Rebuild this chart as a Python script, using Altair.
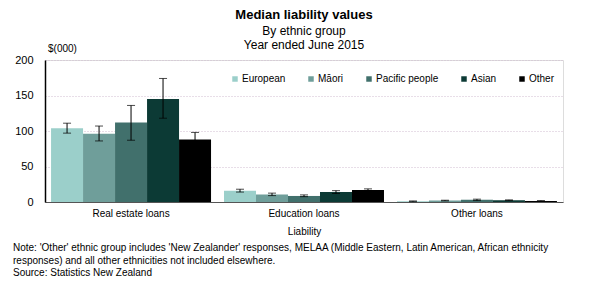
import altair as alt
import pandas as pd

liabilities = ["Real estate loans", "Education loans", "Other loans"]
groups = ["European", "Māori", "Pacific people", "Asian", "Other"]
colors = ["#9bcfca", "#6f9e9a", "#41706c", "#0c3a35", "#000000"]

real_estate = [104, 96, 112, 145, 88]
real_estate_lo = [97, 86, 87, 118, 79]
real_estate_hi = [111, 107, 136, 174, 98]
education = [16, 10.5, 8.5, 14, 17]
education_lo = [14, 9, 7.5, 12, 15.5]
education_hi = [18, 12.5, 10, 16, 18.5]
other = [1, 2, 3, 2.5, 1.5]
other_lo = [0.5, 1.5, 2, 2, 1]
other_hi = [1.5, 2.5, 4, 3, 2]

y_ticks = [0, 50, 100, 150, 200]
unit_label = "$(000)"
note_lines = [
    "Note: 'Other' ethnic group includes 'New Zealander' responses, MELAA (Middle Eastern, Latin American, African ethnicity",
    "responses) and all other ethnicities not included  elsewhere.",
    "Source: Statistics New Zealand",
]

rows = []
for liab, vals, los, his in [
    (liabilities[0], real_estate, real_estate_lo, real_estate_hi),
    (liabilities[1], education, education_lo, education_hi),
    (liabilities[2], other, other_lo, other_hi),
]:
    for g, v, lo, hi in zip(groups, vals, los, his):
        rows.append({"liability": liab, "group": g, "value": v, "lo": lo, "hi": hi})
df = pd.DataFrame(rows)

FONT = "Liberation Sans"

x_axis = alt.Axis(
    labelAngle=0, ticks=False, labelPadding=6, labelFontSize=10,
    titleFontSize=10, titleFontWeight="normal", titlePadding=8,
    domainColor="#555555", labelColor="#000000", titleColor="#000000",
    labelFont=FONT, titleFont=FONT,
)
x_scale = alt.Scale(paddingInner=0.075, paddingOuter=0.035)
y_axis = alt.Axis(
    values=y_ticks, ticks=False, labelPadding=12,
    labelFontSize=11, labelFont=FONT, labelColor="#000000",
    domainColor="#000000", domainWidth=1.5,
    gridColor="#d0bcd0", gridDash=[1, 2],
    labelOverlap=False,
)
y_scale = alt.Scale(domain=[0, 200])


def xenc():
    return alt.X("liability:N", sort=liabilities, title="Liability", scale=x_scale, axis=x_axis)


def yenc(field):
    return alt.Y(field, scale=y_scale, title=None, axis=y_axis)


xoff = alt.XOffset("group:N", sort=groups, scale=alt.Scale(paddingInner=0, paddingOuter=0))

bars = alt.Chart(df).mark_bar().encode(
    x=xenc(),
    xOffset=xoff,
    y=yenc("value:Q"),
    color=alt.Color(
        "group:N", sort=groups,
        scale=alt.Scale(domain=groups, range=colors),
        legend=alt.Legend(
            title=None, orient="none", legendX=185, legendY=14,
            direction="horizontal", columns=5, columnPadding=20,
            symbolType="square", symbolSize=30, symbolStrokeWidth=0,
            labelFontSize=10, labelFont=FONT, labelColor="#000000", labelOffset=2,
        ),
    ),
)

rules = alt.Chart(df).mark_rule(color="#000000", strokeWidth=1).encode(
    x=xenc(), xOffset=xoff, y=yenc("lo:Q"), y2="hi:Q",
)
caps_hi = alt.Chart(df).mark_tick(color="#000000", thickness=1, size=8).encode(
    x=xenc(), xOffset=xoff, y=yenc("hi:Q"),
)
caps_lo = alt.Chart(df).mark_tick(color="#000000", thickness=1, size=8).encode(
    x=xenc(), xOffset=xoff, y=yenc("lo:Q"),
)

unit = alt.Chart(pd.DataFrame({"t": [unit_label]})).mark_text(
    align="left", baseline="middle", fontSize=10, font=FONT, color="#000000"
).encode(text="t", x=alt.value(3), y=alt.value(-11))

note = alt.Chart(pd.DataFrame({"t": [note_lines]})).mark_text(
    align="left", baseline="middle", fontSize=10, font=FONT, color="#000000", lineHeight=12.7
).encode(text="t", x=alt.value(-32), y=alt.value(188))

chart = alt.layer(bars, rules, caps_hi, caps_lo, unit, note).properties(
    width=518,
    height=142,
    autosize=alt.AutoSizeParams(type="none"),
    padding={"left": 37, "top": 52, "right": 29, "bottom": 75},
    title=alt.TitleParams(
        text="Median liability values",
        subtitle=["By ethnic group", "Year ended June 2015"],
        font=FONT, fontSize=13, fontWeight="bold", color="#000000",
        subtitleFont=FONT, subtitleFontSize=12, subtitleColor="#000000",
        subtitlePadding=4, subtitleLineHeight=14,
        anchor="middle", offset=-7,
    ),
).configure_view(stroke=None).configure(background="#ffffff")

chart.save("out.html", embed_options={"renderer": "svg", "actions": False})
